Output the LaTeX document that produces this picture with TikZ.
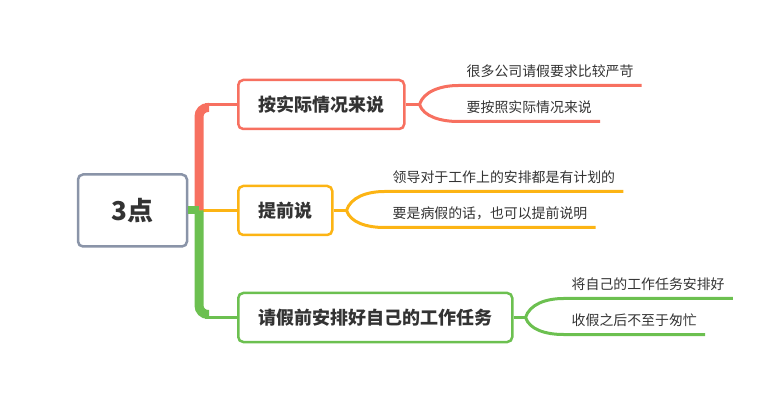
\documentclass[tikz,border=0pt]{standalone}
\usepackage{fontspec}
\newfontfamily\cjk{Noto Sans CJK SC}
\usetikzlibrary{calc}
\definecolor{mapred}{RGB}{247,112,96}
\definecolor{maporange}{RGB}{252,180,20}
\definecolor{mapgreen}{RGB}{108,192,80}
\definecolor{mapgray}{RGB}{138,148,168}
\definecolor{maptext}{RGB}{51,51,51}

\begin{document}
\begin{tikzpicture}[x=1pt,y=-1pt,
  root/.style={draw=mapgray,line width=2.5pt,rounded corners=5pt,fill=white,
    minimum width=109pt,minimum height=72pt,text=maptext,
    font=\cjk\bfseries\fontsize{26}{30}\selectfont},
  branch/.style={draw=#1,line width=2.5pt,rounded corners=5pt,fill=white,
    minimum height=49pt,inner xsep=20pt,text=maptext,
    font=\cjk\bfseries\fontsize{18}{20}\selectfont},
  leaf/.style={inner xsep=8pt,inner ysep=7pt,text height=10pt,text depth=2pt,
    text=maptext,font=\cjk\fontsize{13.9}{15}\selectfont},
  twig/.style={line width=3pt}]
  \useasboundingbox (0,0) rectangle (757,419);

  \node[root] (root) at (132.5,210.5) {3点};
  \node[branch=mapred,anchor=west] (b1) at (237,104.5) {按实际情况来说};
  \node[branch=maporange,anchor=west] (b2) at (237,210.5) {提前说};
  \node[branch=mapgreen,anchor=west] (b3) at (237,317.5) {请假前安排好自己的工作任务};

  \coordinate (hub) at (199,210.5);

  % trunk
  \draw[maporange,line width=3.3pt] (hub) -- (b2.west);
  \draw[mapred,line width=9pt,rounded corners=9pt] (hub) |- ($(b1.west)+(-28,3)$);
  \draw[mapred,line width=3.3pt] ($(b1.west)+(-32,0)$) -- (b1.west);
  \draw[mapgreen,line width=9pt,rounded corners=9pt] (hub) |- ($(b3.west)+(-28,-3)$);
  \draw[mapgreen,line width=3.3pt] ($(b3.west)+(-32,0)$) -- (b3.west);
  \draw[mapgreen,line width=8pt] (root.east) -- (hub);

  % leaves
  \coordinate (f1) at ($(b1.east)+(14,0)$);
  \coordinate (f2) at ($(b2.east)+(13,0)$);
  \coordinate (f3) at ($(b3.east)+(12,0)$);

  \node[leaf,anchor=south west] (l1a) at ($(f1)+(39,-19)$) {很多公司请假要求比较严苛};
  \node[leaf,anchor=south west] (l1b) at ($(f1)+(39,17)$) {要按照实际情况来说};
  \node[leaf,anchor=south west] (l2a) at ($(f2)+(38,-19)$) {领导对于工作上的安排都是有计划的};
  \node[leaf,anchor=south west] (l2b) at ($(f2)+(38,17)$) {要是病假的话，也可以提前说明};
  \node[leaf,anchor=south west] (l3a) at ($(f3)+(38,-19)$) {将自己的工作任务安排好};
  \node[leaf,anchor=south west] (l3b) at ($(f3)+(38,17)$) {收假之后不至于匆忙};

  \draw[mapred,twig] (b1.east) -- (f1);
  \draw[mapred,twig] (f1) .. controls +(4,-13) and +(-18,0) .. (l1a.south west) -- (l1a.south east);
  \draw[mapred,twig] (f1) .. controls +(4,12) and +(-18,0) .. (l1b.south west) -- (l1b.south east);

  \draw[maporange,twig] (b2.east) -- (f2);
  \draw[maporange,twig] (f2) .. controls +(4,-13) and +(-18,0) .. (l2a.south west) -- (l2a.south east);
  \draw[maporange,twig] (f2) .. controls +(4,12) and +(-18,0) .. (l2b.south west) -- (l2b.south east);

  \draw[mapgreen,twig] (b3.east) -- (f3);
  \draw[mapgreen,twig] (f3) .. controls +(4,-13) and +(-18,0) .. (l3a.south west) -- (l3a.south east);
  \draw[mapgreen,twig] (f3) .. controls +(4,12) and +(-18,0) .. (l3b.south west) -- (l3b.south east);
\end{tikzpicture}
\end{document}
